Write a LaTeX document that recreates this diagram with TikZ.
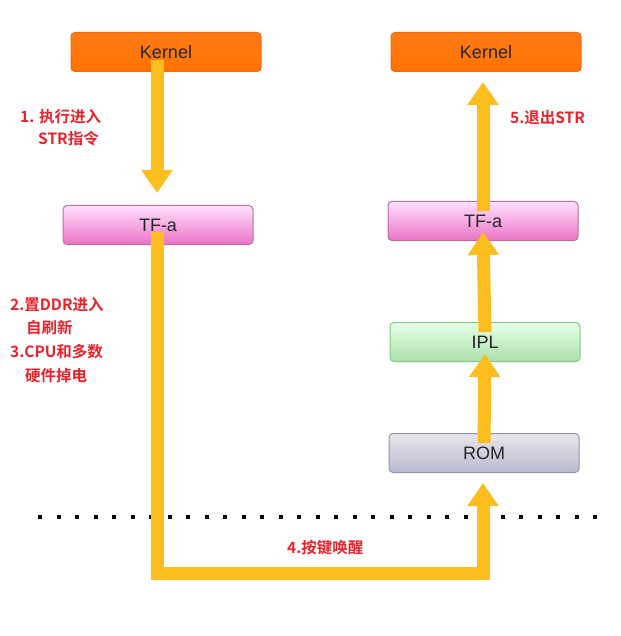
\documentclass[tikz,border=0pt]{standalone}
\usepackage{fontspec}
\setmainfont{Liberation Sans}
\newfontfamily\cjkb{Noto Sans CJK SC Bold}
\usetikzlibrary{arrows.meta}
\definecolor{lab}{HTML}{E8222A}
\definecolor{arr}{HTML}{FBBE1E}
\begin{document}
\begin{tikzpicture}[x=1pt,y=-1pt,
 box/.style={draw,rounded corners=4pt,minimum width=190pt,minimum height=39pt,line width=1pt,font=\fontsize{18}{20}\selectfont,text=black!85},
 kern/.style={box,top color=orange!85!red!90!white,bottom color=orange!90!red,draw=orange!80!red},
 tfa/.style={box,top color=magenta!12,bottom color=magenta!45!purple!55,draw=magenta!40!gray},
 ipl/.style={box,top color=green!10,bottom color=green!45!gray!45,draw=green!40!gray!70},
 rom/.style={box,top color=blue!8!gray!18,bottom color=blue!20!gray!45,draw=blue!20!gray!70},
 ya/.style={draw=arr,line width=13pt,-{Triangle[width=30pt,length=23pt]},line join=miter},
 lb/.style={text=lab,font=\cjkb\fontsize{15.5}{18}\selectfont,anchor=west,inner sep=0pt}]
\useasboundingbox (0,0) rectangle (620,636);
\node[kern] (k1) at (166,52) {Kernel};
\node[kern] (k2) at (486,52) {Kernel};
\node[tfa] (t1) at (158,225) {TF-a};
\node[tfa] (t2) at (483,221) {TF-a};
\node[ipl] (ipl) at (485,342) {IPL};
\node[rom] (rom) at (484,453) {ROM};
\draw[line width=4pt,dash pattern=on 4pt off 14.5pt] (38,517) -- (605,517);
\coordinate (c1) at (157,573);
\coordinate (c2) at (483,573);
\draw[ya] ([yshift=12pt]k1.south -| 157,0) -- (157,193);
\draw[ya] ([yshift=-10pt]t2.north -| 483,0) -- (483,82);
\draw[ya] ([yshift=-10pt]ipl.north) -- ([yshift=9pt]t2.south);
\draw[ya] ([yshift=-10pt]rom.north) -- ([yshift=8pt]ipl.south);
\draw[ya] ([yshift=13pt]t1.south -| 157,0) -- (c1) -- (c2) -- (483,483);
\node[lb] (l1) at (20,117) {1. 执行进入};
\node[lb] (l1b) at (38,139) {STR指令};
\node[lb] (l2) at (10,305) {2.置DDR进入};
\node[lb] (l2b) at (26,328) {自刷新};
\node[lb] (l3) at (10,352) {3.CPU和多数};
\node[lb] (l3b) at (25,376) {硬件掉电};
\node[lb] (l5) at (510,118) {5.退出STR};
\node[lb] (l4) at (287,548) {4.按键唤醒};
\end{tikzpicture}
\end{document}
